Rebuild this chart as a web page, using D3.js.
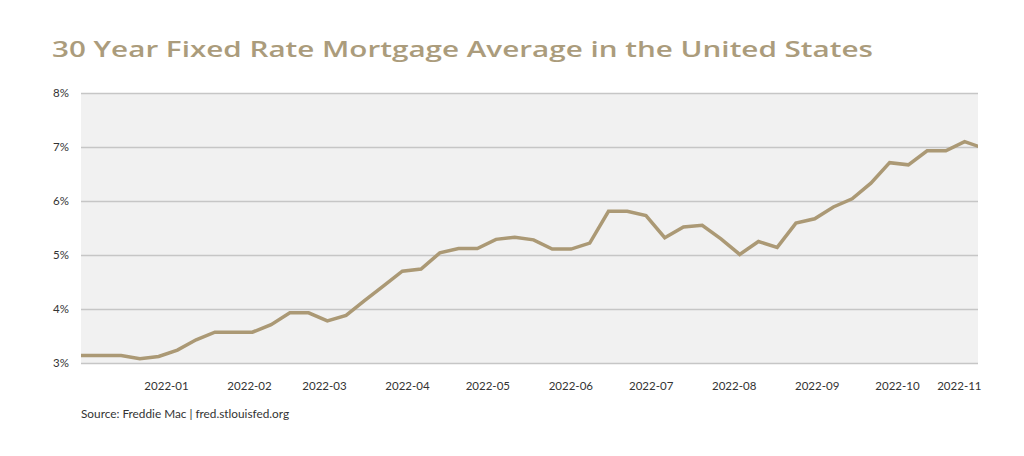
<!DOCTYPE html>
<html>
<head>
<meta charset="utf-8">
<script src="https://cdn.jsdelivr.net/npm/d3@7"></script>
<style>
  body { margin: 0; background: #fff; }
  svg { display: block; }
</style>
</head>
<body>
<div id="chart"></div>
<script>
// weekly 30-yr fixed rate
const dates = [
  '2021-11-24', '2021-12-02', '2021-12-09', '2021-12-16', '2021-12-23', '2021-12-30',
  '2022-01-06', '2022-01-13', '2022-01-20', '2022-01-27',
  '2022-02-03', '2022-02-10', '2022-02-17', '2022-02-24',
  '2022-03-03', '2022-03-10', '2022-03-17', '2022-03-24', '2022-03-31',
  '2022-04-07', '2022-04-14', '2022-04-21', '2022-04-28',
  '2022-05-05', '2022-05-12', '2022-05-19', '2022-05-26',
  '2022-06-02', '2022-06-09', '2022-06-16', '2022-06-23', '2022-06-30',
  '2022-07-07', '2022-07-14', '2022-07-21', '2022-07-28',
  '2022-08-04', '2022-08-11', '2022-08-18', '2022-08-25',
  '2022-09-01', '2022-09-08', '2022-09-15', '2022-09-22', '2022-09-29',
  '2022-10-06', '2022-10-13', '2022-10-20', '2022-10-27',
  '2022-11-03'
];
const rates = [
  3.14, 3.14, 3.14, 3.14, 3.08, 3.12,
  3.24, 3.43, 3.57, 3.57,
  3.57, 3.71, 3.93, 3.93,
  3.78, 3.88, 4.16, 4.43, 4.70,
  4.74, 5.04, 5.12, 5.12,
  5.29, 5.33, 5.28, 5.11,
  5.11, 5.22, 5.81, 5.81, 5.73,
  5.32, 5.52, 5.55, 5.30,
  5.01, 5.25, 5.14, 5.59,
  5.67, 5.89, 6.04, 6.33, 6.71,
  6.67, 6.93, 6.93, 7.10,
  6.98
];
const yTicks = [3, 4, 5, 6, 7, 8];
const xRange = ['2021-12-01', '2022-11-01'];

const titleText = '30 Year Fixed Rate Mortgage Average in the United States';
const sourceText = 'Source: Freddie Mac | fred.stlouisfed.org';

const colors = { title: '#ab9c7c', line: '#ab9975', plot: '#f1f1f1', grid: '#c6c6c6', text: '#333333' };

const width = 1024, height = 456;
const margin = { top: 93, right: 46, bottom: 93, left: 81 };
const innerW = width - margin.left - margin.right,
      innerH = height - margin.top - margin.bottom;

const parse = d3.timeParse('%Y-%m-%d');
const data = dates.map((d, i) => ({ date: parse(d), value: rates[i] }));

const x = d3.scaleTime()
  .domain(xRange.map(parse))
  .range([0, innerW]);
const y = d3.scaleLinear()
  .domain([3, 8])
  .range([innerH, 0]);

const svg = d3.select('#chart').append('svg')
  .attr('width', width)
  .attr('height', height);

// title
svg.append('text')
  .attr('x', 52).attr('y', 57)
  .attr('font-family', 'Open Sans')
  .attr('font-weight', 600)
  .attr('font-size', 22)
  .attr('fill', colors.title)
  .attr('textLength', 821)
  .attr('lengthAdjust', 'spacingAndGlyphs')
  .text(titleText);

const g = svg.append('g').attr('transform', `translate(${margin.left},${margin.top})`);

g.append('defs').append('clipPath').attr('id', 'plotclip')
  .append('rect').attr('width', innerW).attr('height', innerH + 10).attr('y', -5);

g.append('rect')
  .attr('width', innerW).attr('height', innerH)
  .attr('fill', colors.plot);

// y axis + grid
const yAxis = g.append('g')
  .call(d3.axisLeft(y).tickValues(yTicks).tickSize(-innerW).tickFormat(d => d + '%'));
yAxis.select('.domain').remove();
yAxis.selectAll('.tick line').attr('stroke', colors.grid).attr('stroke-width', 1.5);
yAxis.selectAll('.tick text')
  .attr('x', -12)
  .attr('font-family', 'Lato').attr('font-size', 11.5)
  .attr('fill', colors.text);

// x axis
const xAxis = g.append('g')
  .attr('transform', `translate(0,${innerH})`)
  .call(d3.axisBottom(x).ticks(d3.timeMonth.every(1)).tickSize(0).tickFormat(d3.timeFormat('%Y-%m')));
xAxis.select('.domain').remove();
xAxis.selectAll('.tick')
  .filter(d => d.getMonth() === 11)
  .remove();
xAxis.selectAll('.tick text')
  .attr('y', 19)
  .attr('dx', 2)
  .attr('font-family', 'Lato').attr('font-size', 11.5)
  .attr('fill', colors.text)
  .each(function () {
    const t = d3.select(this);
    const box = this.getBBox();
    const tx = x(t.datum());
    const right = tx + 2 + box.width / 2;
    if (right > innerW + 3) t.attr('dx', innerW + 3 - right + 2);
  });

// line
g.append('path')
  .datum(data)
  .attr('clip-path', 'url(#plotclip)')
  .attr('fill', 'none')
  .attr('stroke', colors.line)
  .attr('stroke-width', 3.5)
  .attr('stroke-linejoin', 'miter')
  .attr('d', d3.line().x(d => x(d.date)).y(d => y(d.value)));

// source
svg.append('text')
  .attr('x', 81).attr('y', 418)
  .attr('font-family', 'Lato')
  .attr('font-size', 11.8)
  .attr('fill', colors.text)
  .text(sourceText);
</script>
</body>
</html>
